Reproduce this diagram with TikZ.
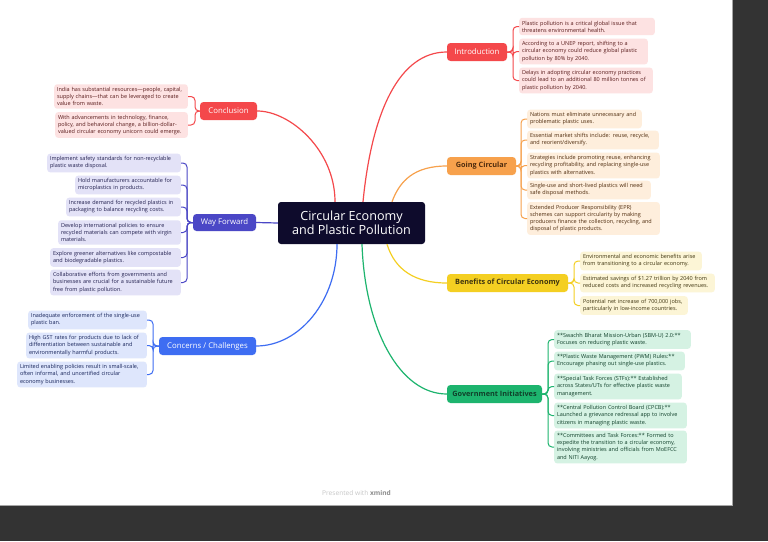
\documentclass[tikz,border=0pt]{standalone}
\usepackage{fontspec}
\setmainfont{Open Sans}
\usetikzlibrary{calc}
\hyphenpenalty=10000
\exhyphenpenalty=10000
\definecolor{cRed}{HTML}{F4484B}
\definecolor{cRedL}{HTML}{FDE2E2}
\definecolor{cRedT}{HTML}{5A1C1C}
\definecolor{cOra}{HTML}{F7A14C}
\definecolor{cOraL}{HTML}{FEEEDC}
\definecolor{cOraT}{HTML}{4F2C0E}
\definecolor{cYel}{HTML}{F4CF22}
\definecolor{cYelL}{HTML}{FCF5D6}
\definecolor{cYelT}{HTML}{3F3510}
\definecolor{cGrn}{HTML}{1DB46E}
\definecolor{cGrnL}{HTML}{D5F2E3}
\definecolor{cGrnT}{HTML}{10402A}
\definecolor{cInd}{HTML}{4B47C6}
\definecolor{cIndL}{HTML}{E3E2F7}
\definecolor{cIndT}{HTML}{22204F}
\definecolor{cBlu}{HTML}{3E6DF2}
\definecolor{cBluL}{HTML}{DEE6FC}
\definecolor{cBluT}{HTML}{17245A}
\definecolor{cNavy}{HTML}{0E0B2C}
\definecolor{cDark}{HTML}{333333}
\tikzset{
  mainbox/.style={rounded corners=3.5pt, minimum height=18pt, inner sep=0pt, align=center,
    font=\fontsize{7.8}{9}\selectfont},
  boldmain/.style={font=\fontsize{7.3}{9}\selectfont\bfseries},
  kid/.style={rounded corners=3pt, inner xsep=2.8pt, inner ysep=3pt, align=left,
    font=\fontsize{5.5}{7.1}\selectfont},
  trunk/.style={line width=1.2pt},
  brk/.style={line width=1pt, rounded corners=4pt},
}
\begin{document}
\begin{tikzpicture}[x=1pt,y=-1pt]
\useasboundingbox (0,0) rectangle (768,541);
\fill[cDark] (0,0) rectangle (768,541);
\fill[white] (0,0) rectangle (732,505);
\draw[gray!70, line width=0.6pt] (732,0) -- (732,505) -- (0,505);

% central
\node[fill=cNavy, rounded corners=3pt, minimum width=147pt, minimum height=42pt, inner sep=0pt,
  text=white, align=center, font=\fontsize{12.6}{14}\selectfont] (center) at (351.5,223)
  {Circular Economy\\and Plastic Pollution};

% main topics
\node[mainbox, fill=cRed, text=white, minimum width=60pt] (intro) at (477,52) {Introduction};
\node[mainbox, fill=cRed, text=white, minimum width=57pt] (conc) at (228.5,111) {Conclusion};
\node[mainbox, boldmain, fill=cOra, text=cOraT, minimum width=69pt] (circ) at (481.5,166) {Going Circular};
\node[mainbox, fill=cInd, text=white, minimum width=63pt, minimum height=17pt] (way) at (224.5,222.5) {Way Forward};
\node[mainbox, boldmain, fill=cYel, text=cYelT, minimum width=121pt] (ben) at (507.5,283) {Benefits of Circular Economy};
\node[mainbox, fill=cBlu, text=white, minimum width=97pt] (cons) at (207.5,346) {Concerns / Challenges};
\node[mainbox, boldmain, fill=cGrn, text=cGrnT, minimum width=95pt] (gov) at (494.5,394) {Government Initiatives};

% trunk connectors
\draw[trunk, cRed] ([xshift=-16.5pt]center.north) .. controls (335,150) and (290,111) .. (conc.east);
\draw[trunk, cRed] ([xshift=11.5pt]center.north) .. controls (372,110) and (400,52) .. (intro.west);
\draw[trunk, cOra] ([xshift=40.5pt]center.north) .. controls (400,180) and (415,166) .. (circ.west);
\draw[trunk, cInd] (center.west) -- (way.east);
\draw[trunk, cBlu] ([xshift=-14.5pt]center.south) .. controls (337,300) and (300,346) .. (cons.east);
\draw[trunk, cYel] ([xshift=35.5pt]center.south) .. controls (395,270) and (415,283) .. (ben.west);
\draw[trunk, cGrn] ([xshift=10.5pt]center.south) .. controls (365,330) and (400,394) .. (gov.west);

% Introduction children
\begin{scope}[every node/.style={kid, fill=cRedL, text=cRedT, anchor=west}]
\node[text width=130pt] (i1) at (519,26.5) {Plastic pollution is a critical global issue that\\threatens environmental health.};
\node[text width=123pt] (i2) at (519,51.5) {According to a UNEP report, shifting to a\\circular economy could reduce global plastic\\pollution by 80\% by 2040.};
\node[text width=128pt] (i3) at (519,80.5) {Delays in adopting circular economy practices\\could lead to an additional 80 million tonnes of\\plastic pollution by 2040.};
\end{scope}
\coordinate (ibr) at (513,52);
\foreach \n in {i1,i2,i3} \draw[brk, cRed] (intro.east) -- (ibr) |- (\n.west);

% Going Circular children
\begin{scope}[every node/.style={kid, fill=cOraL, text=cOraT, anchor=west}]
\node[text width=109pt] (g1) at (527,119) {Nations must eliminate unnecessary and\\problematic plastic uses.};
\node[text width=126pt] (g2) at (527,140) {Essential market shifts include: reuse, recycle,\\and reorient/diversify.};
\node[text width=127pt] (g3) at (527,165.5) {Strategies include promoting reuse, enhancing\\recycling profitability, and replacing single-use\\plastics with alternatives.};
\node[text width=118pt] (g4) at (527,190) {Single-use and short-lived plastics will need\\safe disposal methods.};
\node[text width=127pt] (g5) at (527,218.5) {Extended Producer Responsibility (EPR)\\schemes can support circularity by making\\producers finance the collection, recycling, and\\disposal of plastic products.};
\end{scope}
\coordinate (gbr) at (521,166);
\foreach \n in {g1,g2,g3,g4,g5} \draw[brk, cOra] (circ.east) -- (gbr) |- (\n.west);

% Benefits children
\begin{scope}[every node/.style={kid, fill=cYelL, text=cYelT, anchor=west}]
\node[text width=116pt] (b1) at (580,261) {Environmental and economic benefits arise\\from transitioning to a circular economy.};
\node[text width=129pt] (b2) at (580,283) {Estimated savings of \$1.27 trillion by 2040 from\\reduced costs and increased recycling revenues.};
\node[text width=102pt] (b3) at (580,305.5) {Potential net increase of 700,000 jobs,\\particularly in low-income countries.};
\end{scope}
\coordinate (bbr) at (574,283);
\foreach \n in {b1,b2,b3} \draw[brk, cYel] (ben.east) -- (bbr) |- (\n.west);

% Government children
\begin{scope}[every node/.style={kid, fill=cGrnL, text=cGrnT, anchor=west}]
\node[text width=131pt] (v1) at (554,339.5) {**Swachh Bharat Mission-Urban (SBM-U) 2.0:**\\Focuses on reducing plastic waste.};
\node[text width=125pt] (v2) at (554,361) {**Plastic Waste Management (PWM) Rules:**\\Encourage phasing out single-use plastics.};
\node[text width=122pt] (v3) at (554,386.5) {**Special Task Forces (STFs):** Established\\across States/UTs for effective plastic waste\\management.};
\node[text width=127pt] (v4) at (554,415.5) {**Central Pollution Control Board (CPCB):**\\Launched a grievance redressal app to involve\\citizens in managing plastic waste.};
\node[text width=127pt] (v5) at (554,447) {**Committees and Task Forces:** Formed to\\expedite the transition to a circular economy,\\involving ministries and officials from MoEFCC\\and NITI Aayog.};
\end{scope}
\coordinate (vbr) at (548,394);
\foreach \n in {v1,v2,v3,v4,v5} \draw[brk, cGrn] (gov.east) -- (vbr) |- (\n.west);

% Conclusion children
\begin{scope}[every node/.style={kid, fill=cRedL, text=cRedT, anchor=east}]
\node[text width=128pt] (c1) at (188,96.5) {India has substantial resources—people, capital,\\supply chains—that can be leveraged to create\\value from waste.};
\node[text width=127pt] (c2) at (188,125) {With advancements in technology, finance,\\policy, and behavioral change, a billion-dollar-\\valued circular economy unicorn could emerge.};
\end{scope}
\coordinate (cbr) at (195,111);
\foreach \n in {c1,c2} \draw[brk, cRed] (conc.west) -- (cbr) |- (\n.east);

% Way Forward children
\begin{scope}[every node/.style={kid, fill=cIndL, text=cIndT, anchor=east}]
\node[text width=128pt] (w1) at (181,163) {Implement safety standards for non-recyclable\\plastic waste disposal.};
\node[text width=100pt] (w2) at (181,185) {Hold manufacturers accountable for\\microplastics in products.};
\node[text width=109pt] (w3) at (181,207) {Increase demand for recycled plastics in\\packaging to balance recycling costs.};
\node[text width=117pt] (w4) at (181,232.5) {Develop international policies to ensure\\recycled materials can compete with virgin\\materials.};
\node[text width=125pt] (w5) at (181,257.5) {Explore greener alternatives like compostable\\and biodegradable plastics.};
\node[text width=125pt] (w6) at (181,282.5) {Collaborative efforts from governments and\\businesses are crucial for a sustainable future\\free from plastic pollution.};
\end{scope}
\coordinate (wbr) at (187,222.5);
\foreach \n in {w1,w2,w3,w4,w5,w6} \draw[brk, cInd] (way.west) -- (wbr) |- (\n.east);

% Concerns children
\begin{scope}[every node/.style={kid, fill=cBluL, text=cBluT, anchor=east}]
\node[text width=113pt] (k1) at (147,320) {Inadequate enforcement of the single-use\\plastic ban.};
\node[text width=115pt] (k2) at (147,345.5) {High GST rates for products due to lack of\\differentiation between sustainable and\\environmentally harmful products.};
\node[text width=124pt] (k3) at (147,374.5) {Limited enabling policies result in small-scale,\\often informal, and uncertified circular\\economy businesses.};
\end{scope}
\coordinate (kbr) at (153,346);
\foreach \n in {k1,k2,k3} \draw[brk, cBlu] (cons.west) -- (kbr) |- (\n.east);

% footer
\node[anchor=west, inner sep=0pt, font=\fontsize{6.6}{8}\selectfont] (foot) at (322,493)
  {\textcolor{black!22}{Presented with} \textcolor{black!45}{\bfseries xmind}};
\end{tikzpicture}
\end{document}
